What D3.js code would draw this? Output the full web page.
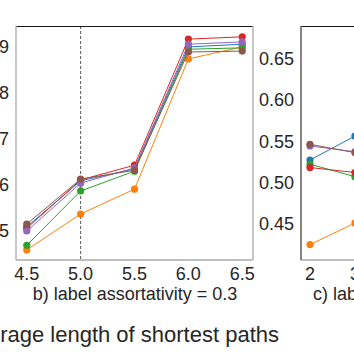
<!DOCTYPE html>
<html>
<head>
<meta charset="utf-8">
<script src="https://cdn.jsdelivr.net/npm/d3@7"></script>
<style>
body { margin: 0; background: #fff; }
svg { display: block; font-family: "Liberation Sans", Arial, sans-serif; }
.tick-label { font-size: 18px; fill: #262626; }
.panel-label { font-size: 18px; fill: #262626; }
.fig-title { font-size: 22px; fill: #262626; }
</style>
</head>
<body>
<div id="chart"></div>
<script>
//Panel b: x values and one array per series
let b_x = [4.5, 5.0, 5.5, 6.0, 6.5];
let b_blue = [2.507, 2.607, 2.633, 2.898, 2.904];
let b_orange = [2.457, 2.535, 2.589, 2.872, 2.898];
let b_green = [2.467, 2.585, 2.628, 2.893, 2.896];
let b_red = [2.504, 2.609, 2.641, 2.915, 2.920];
let b_purple = [2.498, 2.602, 2.635, 2.904, 2.909];
let b_brown = [2.513, 2.611, 2.630, 2.887, 2.889];
let b_yticks = [2.5, 2.6, 2.7, 2.8, 2.9];
let b_xticks = [4.5, 5.0, 5.5, 6.0, 6.5];
let b_marker_x = 5.0;

//Panel c: only the first part is visible
let c_x = [2, 3];
let c_blue = [0.527, 0.556];
let c_orange = [0.425, 0.451];
let c_green = [0.522, 0.507];
let c_red = [0.518, 0.512];
let c_purple = [0.544, 0.537];
let c_brown = [0.546, 0.536];
let c_yticks = [0.45, 0.50, 0.55, 0.60, 0.65];
let c_xticks = [2, 3];

let colors = ['#1f77b4', '#ff7f0e', '#2ca02c', '#d62728', '#9467bd', '#8c564b'];

let width = 354, height = 354;
let svg = d3.select('#chart').append('svg').attr('width', width).attr('height', height);

//Draw one panel: frame, ticks labels, lines with markers
function drawPanel(p) {
    let x = d3.scaleLinear().domain(p.xdomain).range([p.left, p.right]);
    let y = d3.scaleLinear().domain(p.ydomain).range([p.bottom, p.top]);
    let g = svg.append('g');

    //Dashed reference line
    if (p.vline !== undefined) {
        g.append('line')
            .attr('x1', x(p.vline)).attr('x2', x(p.vline))
            .attr('y1', p.top).attr('y2', p.bottom)
            .attr('stroke', '#555').attr('stroke-width', 1)
            .attr('stroke-dasharray', '3,2');
    }

    let line = d3.line().x(d => x(d[0])).y(d => y(d[1]));
    p.series.forEach((s, i) => {
        let pts = p.xs.map((v, j) => [v, s[j]]);
        g.append('path').datum(pts)
            .attr('d', line)
            .attr('fill', 'none')
            .attr('stroke', colors[i])
            .attr('stroke-width', 1);
        g.selectAll('.dot' + i).data(pts).enter().append('circle')
            .attr('class', 'dot' + i)
            .attr('cx', d => x(d[0])).attr('cy', d => y(d[1]))
            .attr('r', 3.6)
            .attr('fill', colors[i]);
    });

    //Spines
    g.append('line').attr('x1', p.left).attr('x2', p.right).attr('y1', p.top + 0.5).attr('y2', p.top + 0.5)
        .attr('stroke', '#1a1a1a').attr('stroke-width', 1.2);
    g.append('line').attr('x1', p.left).attr('x2', p.right).attr('y1', p.bottom).attr('y2', p.bottom)
        .attr('stroke', '#aaa').attr('stroke-width', 1.3);
    g.append('line').attr('x1', p.left).attr('x2', p.left).attr('y1', p.top).attr('y2', p.bottom)
        .attr('stroke', p.leftColor).attr('stroke-width', 1.3);
    g.append('line').attr('x1', p.right).attr('x2', p.right).attr('y1', p.top).attr('y2', p.bottom)
        .attr('stroke', '#aaa').attr('stroke-width', 1.3);

    //Tick labels (no tick marks)
    g.selectAll('.ytl').data(p.yticks).enter().append('text')
        .attr('class', 'tick-label')
        .attr('x', p.left - 7).attr('y', d => y(d) + 6.5)
        .attr('text-anchor', 'end')
        .text(d => d3.format(p.yfmt)(d));
    g.selectAll('.xtl').data(p.xticks).enter().append('text')
        .attr('class', 'tick-label')
        .attr('x', d => x(d)).attr('y', 280)
        .attr('text-anchor', 'middle')
        .text(d => d3.format(p.xfmt)(d));
    g.append('text').attr('class', 'panel-label')
        .attr('x', p.labelX).attr('y', 300)
        .attr('text-anchor', p.labelAnchor)
        .text(p.label);
}

drawPanel({
    left: 16, right: 253, top: 26, bottom: 260,
    xdomain: [4.4, 6.6], ydomain: [2.435, 2.9435],
    xs: b_x, series: [b_blue, b_orange, b_green, b_red, b_purple, b_brown],
    yticks: b_yticks, xticks: b_xticks, yfmt: '.1f', xfmt: '.1f',
    vline: b_marker_x, leftColor: '#aaa',
    label: 'b) label assortativity = 0.3', labelX: 135, labelAnchor: 'middle'
});

drawPanel({
    left: 301, right: 538, top: 26, bottom: 260,
    xdomain: [1.8, 7.07], ydomain: [0.4064, 0.6888],
    xs: c_x, series: [c_blue, c_orange, c_green, c_red, c_purple, c_brown],
    yticks: c_yticks, xticks: c_xticks, yfmt: '.2f', xfmt: 'd',
    leftColor: '#444',
    label: 'c) label count', labelX: 313, labelAnchor: 'start'
});

//Figure caption, partly outside the crop
svg.append('text').attr('class', 'fig-title')
    .attr('x', 279).attr('y', 342)
    .attr('text-anchor', 'end')
    .text('average length of shortest paths');
</script>
</body>
</html>
